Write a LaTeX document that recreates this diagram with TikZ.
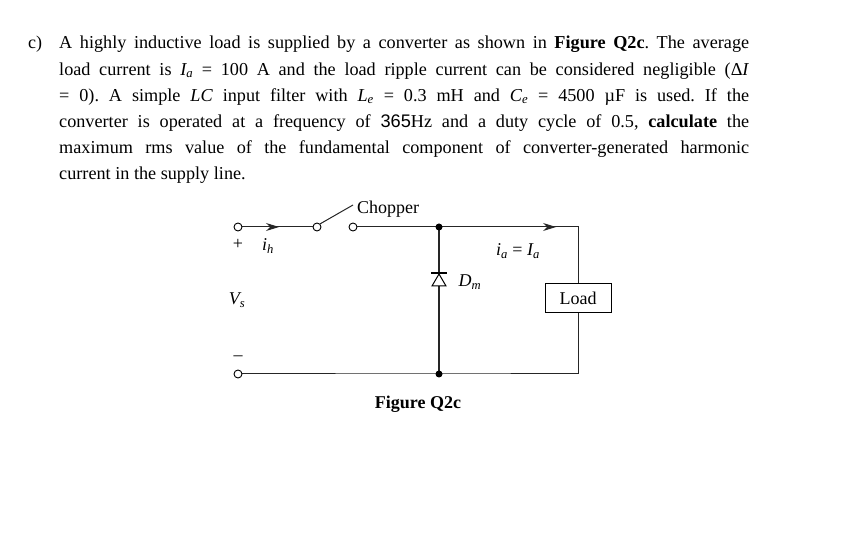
\documentclass[tikz,border=0pt]{standalone}
\usepackage{fontspec}
\setmainfont{Liberation Serif}
\newfontfamily\sansf{Liberation Sans}
\usetikzlibrary{arrows.meta,decorations.markings}
\tikzset{
  wire/.style={line width=1pt,black!85},
  term/.style={circle,draw,line width=0.9pt,inner sep=0pt,minimum size=8pt,fill=white},
  dot/.style={circle,fill=black,inner sep=0pt,minimum size=7pt},
  lbl/.style={font=\fontsize{18}{20}\selectfont,inner sep=0pt},
  arrmid/.style={postaction={decorate},decoration={markings,mark=at position #1 with {\arrow{Stealth[length=13pt,width=8pt]}}}}
}
\begin{document}
\frenchspacing
\begin{tikzpicture}[x=1pt,y=-1pt]
\useasboundingbox (0,0) rectangle (857,534);
\node[lbl,anchor=north west] (c) at (28,36) {c)};
\node[lbl,anchor=north west,align=justify] (txt) at (59,36) {\parbox{690pt}{\fontsize{18.2}{26.2}\selectfont\noindent
A highly inductive load is supplied by a converter as shown in \textbf{Figure Q2c}. The average\linebreak
load current is \textit{I\textsubscript{a}} = 100 A and the load ripple current can be considered negligible (Δ\textit{I}\linebreak
= 0). A simple \textit{LC} input filter with \textit{L\textsubscript{e}} = 0.3 mH and \textit{C\textsubscript{e}} = 4500 µF is used. If the\linebreak
converter is operated at a frequency of {\sansf 365}Hz and a duty cycle of 0.5, \textbf{calculate} the\linebreak
maximum rms value of the fundamental component of converter-generated harmonic\linebreak
current in the supply line.}};
% circuit
\coordinate (tl) at (238,227);
\coordinate (bl) at (238,374);
\coordinate (j1) at (439,227);
\coordinate (j2) at (439,374);
\coordinate (tr) at (578,227);
\coordinate (br) at (578,374);
\node[term] (s1) at (317,227) {};
\node[term] (s2) at (353,227) {};
\node[draw,line width=0.9pt,minimum width=66pt,minimum height=29pt,inner sep=0pt,lbl] (load) at (578,298) {Load};
\draw[wire,arrmid=0.55] (tl) -- (s1);
\draw[wire] (s1.north east) -- (353,205);
\draw[wire] (s2) -- (j1);
\draw[wire,arrmid=0.6] (j1) -- (tr) -- (load.north);
\draw[wire] (load.south) -- (br) -- (j2) -- (bl);
\draw[wire,line width=1.3pt] (j1) -- (j2);
% diode (cathode up)
\draw[line width=1pt,fill=white] (432,286) -- (446,286) -- (439,274) -- cycle;
\draw[line width=1.4pt] (431,273) -- (447,273);
\node[term] (t1) at (tl) {};
\node[term] (t2) at (bl) {};
\node[dot] at (j1) {};
\node[dot] at (j2) {};
\node[lbl,anchor=west] (ch) at (357,209) {Chopper};
\node[lbl] (plus) at (238,244) {+};
\node[lbl] (minus) at (238,358) {--};
\node[lbl] (ih) at (268,246) {\textit{i\textsubscript{h}}};
\node[lbl] (vs) at (237,300) {\textit{V\textsubscript{s}}};
\node[lbl] (ia) at (518,251) {\textit{i\textsubscript{a}} = \textit{I\textsubscript{a}}};
\node[lbl] (dm) at (470,282) {\textit{D\textsubscript{m}}};
\node[lbl,font=\fontsize{18}{20}\selectfont\bfseries] (fig) at (418,404) {Figure Q2c};
\end{tikzpicture}
\end{document}
